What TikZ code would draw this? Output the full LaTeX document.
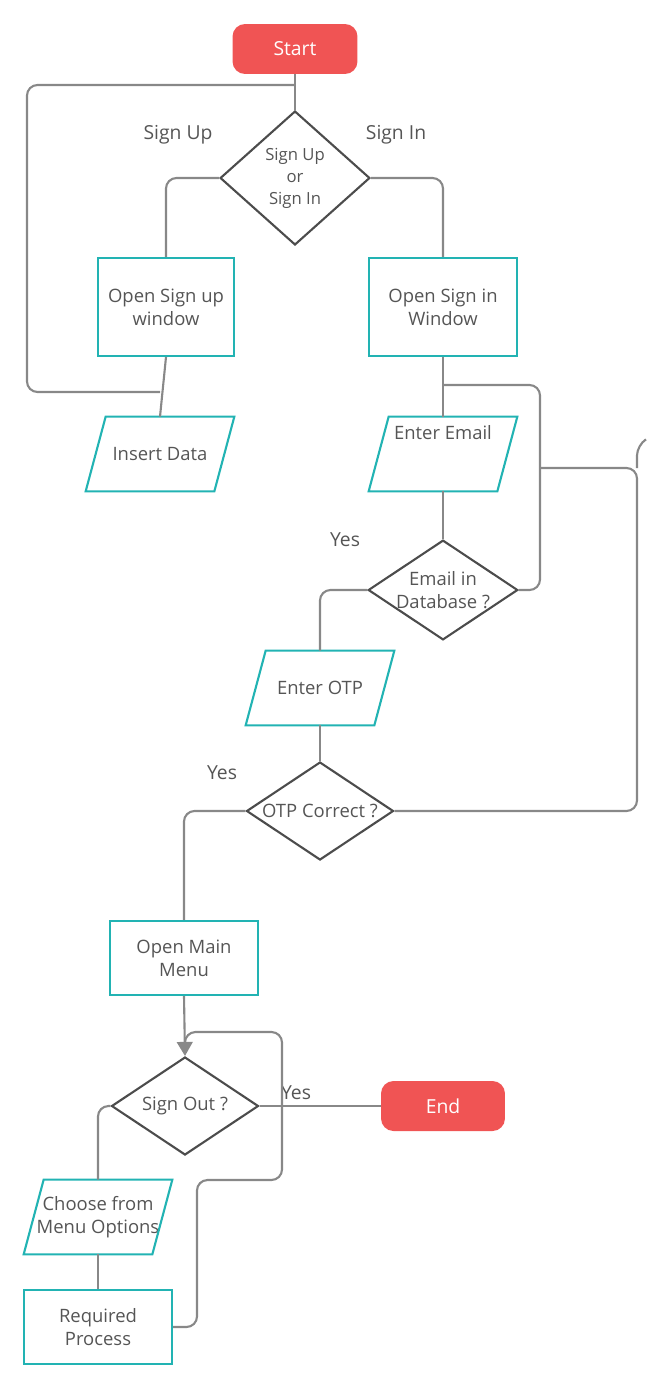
\documentclass[tikz,border=0pt]{standalone}
\usepackage{fontspec}
\setmainfont{Open Sans}
\usetikzlibrary{shapes.geometric,arrows.meta}
\definecolor{teal1}{HTML}{22B3B3}
\definecolor{redp}{HTML}{F05454}
\definecolor{ln}{HTML}{888888}
\definecolor{txt}{HTML}{555555}
\begin{document}
\begin{tikzpicture}[x=0.02cm,y=-0.02cm,
  every node/.style={font=\fontsize{10.5}{13}\selectfont,text=txt,align=center},
  pill/.style={rounded corners=12.5*0.02cm,fill=redp,draw=none,minimum width=2.5cm,minimum height=1cm,text=white,font=\fontsize{11}{13}\selectfont},
  box/.style={draw=teal1,line width=1.2pt,inner sep=0pt},
  dia/.style={diamond,draw=black!70,line width=1.2pt,aspect=1.5,inner sep=0pt},
  para/.style={rectangle,inner sep=0pt,minimum width=2.56cm,minimum height=1.48cm},
  pl/.style={draw=teal1,line width=1.2pt},
  con/.style={draw=ln,line width=1.2pt,rounded corners=6pt},
  lab/.style={font=\fontsize{11}{13}\selectfont}]
\useasboundingbox (0,0) rectangle (655,1380);
\newcommand\slant[1]{\draw[pl] ([xshift=0.2cm]#1.north west) -- ([xshift=0.2cm]#1.north east) -- ([xshift=-0.2cm]#1.south east) -- ([xshift=-0.2cm]#1.south west) -- cycle;}
\node[pill] (start) at (295,49) {Start};
\node[pill,minimum width=2.48cm] (end) at (443,1106) {End};
\node[dia,minimum width=2.96cm,minimum height=2.68cm,font=\fontsize{9.5}{12.5}\selectfont] (d1) at (295,178) {Sign Up\\or\\Sign In};
\node[box,minimum width=2.72cm,minimum height=1.96cm] (up) at (166,307) {Open Sign up\\window};
\node[box,minimum width=2.96cm,minimum height=1.96cm] (in) at (443,307) {Open Sign in\\Window};
\node[para] (ins) at (160,454) {Insert Data};
\node[para] (em) at (443,454) {Enter Email\\[2ex]};
\node[dia,minimum width=2.96cm,minimum height=1.96cm] (d2) at (443,590) {Email in\\Database ?};
\node[para] (otp) at (320,688) {Enter OTP};
\node[dia,minimum width=2.94cm,minimum height=1.96cm] (d3) at (320,811) {OTP Correct ?};
\node[box,minimum width=2.96cm,minimum height=1.48cm] (mm) at (184,958) {Open Main\\Menu};
\node[dia,minimum width=2.94cm,minimum height=1.96cm] (d4) at (185,1106) {Sign Out ?};
\node[para] (ch) at (98,1217) {Choose from\\Menu Options};
\node[box,minimum width=2.96cm,minimum height=1.48cm] (rp) at (98,1327) {Required\\Process};
\slant{ins}\slant{em}\slant{otp}\slant{ch}
\node[lab] at (178,135) {Sign Up};
\node[lab] at (396,135) {Sign In};
\node[lab] at (345,540) {Yes};
\node[lab] at (222,773) {Yes};
\node[lab] at (296,1093) {Yes};
\coordinate (a1) at (160,392);
\coordinate (a2) at (295,85);
\coordinate (b1) at (442,385);
\coordinate (c1) at (540,468);
\coordinate (c2) at (645,440);
\coordinate (e1) at (185,1032);
\draw[con] (start) -- (d1);
\draw[con] (d1.west) -| (up.north);
\draw[con] (d1.east) -| (in.north);
\draw[con] (up.south) -- (ins.north);
\draw[con] (a1) -- (27,392) -- (27,85) -- (a2);
\draw[con] (in.south) -- (em.north);
\draw[con] (d2.east) -- (540,590) -- (540,385) -- (b1);
\draw[con] (d3.east) -- (637,811) -- (637,468) -- (c1);
\draw[con] (637,468) -- (637,445) -- (c2);
\draw[con] (em.south) -- (d2.north);
\draw[con] (d2.west) -| (otp.north);
\draw[con] (otp.south) -- (d3.north);
\draw[con] (d3.west) -| (mm.north);
\draw[con,-{Triangle[length=8pt,width=9pt]}] (mm.south) -- (d4.north);
\draw[con] (d4.east) -- (end.west);
\draw[con] (d4.west) -| (ch.north);
\draw[con] (ch.south) -- (rp.north);
\draw[con] (rp.east) -- (197,1327) -- (197,1180) -- (282,1180) -- (282,1032) -- (e1) -- (185,1045);
\end{tikzpicture}
\end{document}
